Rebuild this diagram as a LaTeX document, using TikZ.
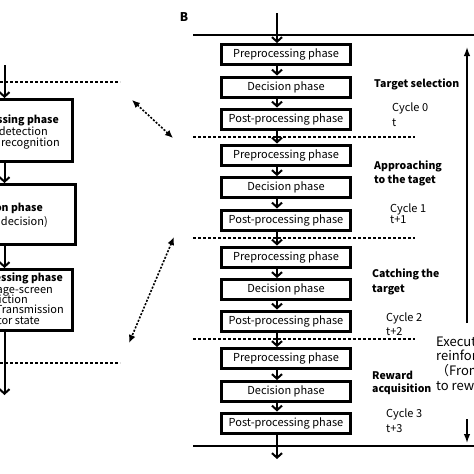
\documentclass[tikz,border=0pt]{standalone}
\usepackage{fontspec}
\setmainfont{Noto Sans CJK JP}
\usetikzlibrary{positioning,arrows.meta}

\begin{document}
\begin{tikzpicture}[x=1pt,y=-1pt,
	phase/.style={draw, line width=3pt, minimum width=129pt, minimum height=20pt, inner sep=0pt, font=\fontsize{11}{12}\selectfont},
	bigbox/.style={draw, line width=3pt, inner sep=0pt},
	flow/.style={line width=2pt, -{Straight Barb[length=4.5pt,width=10pt,line width=2pt]}},
	cut/.style={line width=1.4pt, dash pattern=on 3pt off 2pt},
	rule/.style={line width=1.2pt},
	span/.style={line width=1.4pt, -{Latex[length=9pt,width=6.5pt]}},
	swap/.style={line width=1.6pt, dash pattern=on 2pt off 1.6pt, {Latex[length=8pt,width=7pt]}-{Latex[length=8pt,width=7pt]}},
	lab/.style={anchor=west, inner sep=0pt, text height=8pt, text depth=2pt, font=\fontsize{11}{12}\selectfont},
	blab/.style={lab, font=\bfseries\fontsize{10.5}{12}\selectfont},
	ltxt/.style={anchor=east, inner sep=0pt, text height=8pt, text depth=2pt, font=\fontsize{11}{12}\selectfont},
	bltxt/.style={ltxt, font=\bfseries\fontsize{10.5}{12}\selectfont}]
	\useasboundingbox (0,0) rectangle (474,474);
	\clip (0,0) rectangle (474,474);
	
	% panel A (cut off at the left)
	\coordinate (la0) at (4.5,65);
	\coordinate (la1) at (4.5,395);
	\node[bigbox, minimum width=161pt, minimum height=62pt](lbox1) at (-8,130.5) {};
	\node[bigbox, minimum width=164pt, minimum height=60pt](lbox2) at (-6.5,214.5) {};
	\node[bigbox, minimum width=161pt, minimum height=61pt](lbox3) at (-8,300) {};
	
	\draw[flow] (la0) -- (la0 |- lbox1.north);
	\draw[flow] (lbox1.south -| la0) -- (lbox2.north -| la0);
	\draw[flow] (lbox2.south -| la0) -- (lbox3.north -| la0);
	\draw[flow] (lbox3.south -| la0) -- (la1);
	
	\node[bltxt](lt1a) at (59,120) {Preprocessing phase};
	\node[ltxt](lt1b) at (48,132) {Target detection};
	\node[ltxt](lt1c) at (60,143) {Target recognition};
	\node[bltxt](lt2a) at (43,208) {Decision phase};
	\node[ltxt](lt2b) at (48,222) {(Action decision)};
	\node[bltxt](lt3a) at (63,278) {Post-processing phase};
	\node[ltxt](lt3b) at (53,290) {Image-screen};
	\node[ltxt](lt3c) at (28,300) {depiction};
	\node[ltxt](lt3d) at (64,310) {Transmission};
	\node[ltxt](lt3e) at (40,321) {motor state};
	
	\coordinate (lc0) at (0,82);
	\coordinate (lc1) at (120,82);
	\coordinate (lc2) at (0,363);
	\coordinate (lc3) at (120,363);
	\draw[cut] (lc0) -- (lc1);
	\draw[cut] (lc2) -- (lc3);
	
	\coordinate (da0) at (132,100);
	\coordinate (da1) at (173,138);
	\coordinate (db0) at (174,237);
	\coordinate (db1) at (129,343);
	\draw[swap] (da0) -- (da1);
	\draw[swap] (db0) -- (db1);
	
	% panel B
	\node[font=\bfseries\fontsize{12}{14}\selectfont](lblB) at (184,17) {B};
	
	\node[phase](pre0) at (286,54.5) {Preprocessing phase};
	\node[phase](dec0) at (286,87) {Decision phase};
	\node[phase](post0) at (286,119) {Post-processing phase};
	\node[phase](pre1) at (286,155) {Preprocessing phase};
	\node[phase](dec1) at (286,187.5) {Decision phase};
	\node[phase](post1) at (286,220) {Post-processing phase};
	\node[phase](pre2) at (286,257) {Preprocessing phase};
	\node[phase](dec2) at (286,289.5) {Decision phase};
	\node[phase](post2) at (286,321) {Post-processing phase};
	\node[phase](pre3) at (286,358.5) {Preprocessing phase};
	\node[phase](dec3) at (286,391.5) {Decision phase};
	\node[phase](post3) at (286,423) {Post-processing phase};
	
	\coordinate (in) at (277,13);
	\coordinate (out) at (277,459);
	\draw[flow] (in) -- (in |- pre0.north);
	\draw[flow] ([xshift=-9pt]pre0.south) -- ([xshift=-9pt]dec0.north);
	\draw[flow] ([xshift=-9pt]dec0.south) -- ([xshift=-9pt]post0.north);
	\draw[flow] ([xshift=-9pt]post0.south) -- ([xshift=-9pt]pre1.north);
	\draw[flow] ([xshift=-9pt]pre1.south) -- ([xshift=-9pt]dec1.north);
	\draw[flow] ([xshift=-9pt]dec1.south) -- ([xshift=-9pt]post1.north);
	\draw[flow] ([xshift=-9pt]post1.south) -- ([xshift=-9pt]pre2.north);
	\draw[flow] ([xshift=-9pt]pre2.south) -- ([xshift=-9pt]dec2.north);
	\draw[flow] ([xshift=-9pt]dec2.south) -- ([xshift=-9pt]post2.north);
	\draw[flow] ([xshift=-9pt]post2.south) -- ([xshift=-9pt]pre3.north);
	\draw[flow] ([xshift=-9pt]pre3.south) -- ([xshift=-9pt]dec3.north);
	\draw[flow] ([xshift=-9pt]dec3.south) -- ([xshift=-9pt]post3.north);
	\draw[flow] ([xshift=-9pt]post3.south) -- (out);
	
	\coordinate (r0a) at (193,35);
	\coordinate (r0b) at (474,35);
	\coordinate (r1a) at (193,446);
	\coordinate (r1b) at (474,446);
	\draw[rule] (r0a) -- (r0b);
	\draw[rule] (r1a) -- (r1b);
	
	\coordinate (c1a) at (193,137);
	\coordinate (c1b) at (415,137);
	\coordinate (c2a) at (193,238);
	\coordinate (c2b) at (415,238);
	\coordinate (c3a) at (193,339);
	\coordinate (c3b) at (415,339);
	\draw[cut] (c1a) -- (c1b);
	\draw[cut] (c2a) -- (c2b);
	\draw[cut] (c3a) -- (c3b);
	
	\node[blab](goal0) at (374,84) {Target selection};
	\node[lab](cyc0) at (392,108) {Cycle 0};
	\node[lab](time0) at (392,123) {t};
	\node[blab](goal1a) at (374,166) {Approaching};
	\node[blab](goal1b) at (374,180) {to the taget};
	\node[lab](cyc1) at (390,209) {Cycle 1};
	\node[lab](time1) at (390,220) {t+1};
	\node[blab](goal2a) at (372,274) {Catching the};
	\node[blab](goal2b) at (372,289) {target};
	\node[lab](cyc2) at (386,318) {Cycle 2};
	\node[lab](time2) at (386,332) {t+2};
	\node[blab](goal3a) at (372,376) {Reward};
	\node[blab](goal3b) at (372,389) {acquisition};
	\node[lab](cyc3) at (386,414) {Cycle 3};
	\node[lab](time3) at (386,429) {t+3};
	
	\coordinate (up0) at (467,323);
	\coordinate (up1) at (467,47);
	\coordinate (dn0) at (467,419);
	\coordinate (dn1) at (467,443);
	\draw[span] (up0) -- (up1);
	\draw[span] (dn0) -- (dn1);
	\node[anchor=west, inner sep=0pt, align=left, font=\fontsize{13}{13.5}\selectfont](exec) at (436,365) {Execution of\\reinforcement learning\\（From target selection\\to reward acquisition）};
\end{tikzpicture}
\end{document}
